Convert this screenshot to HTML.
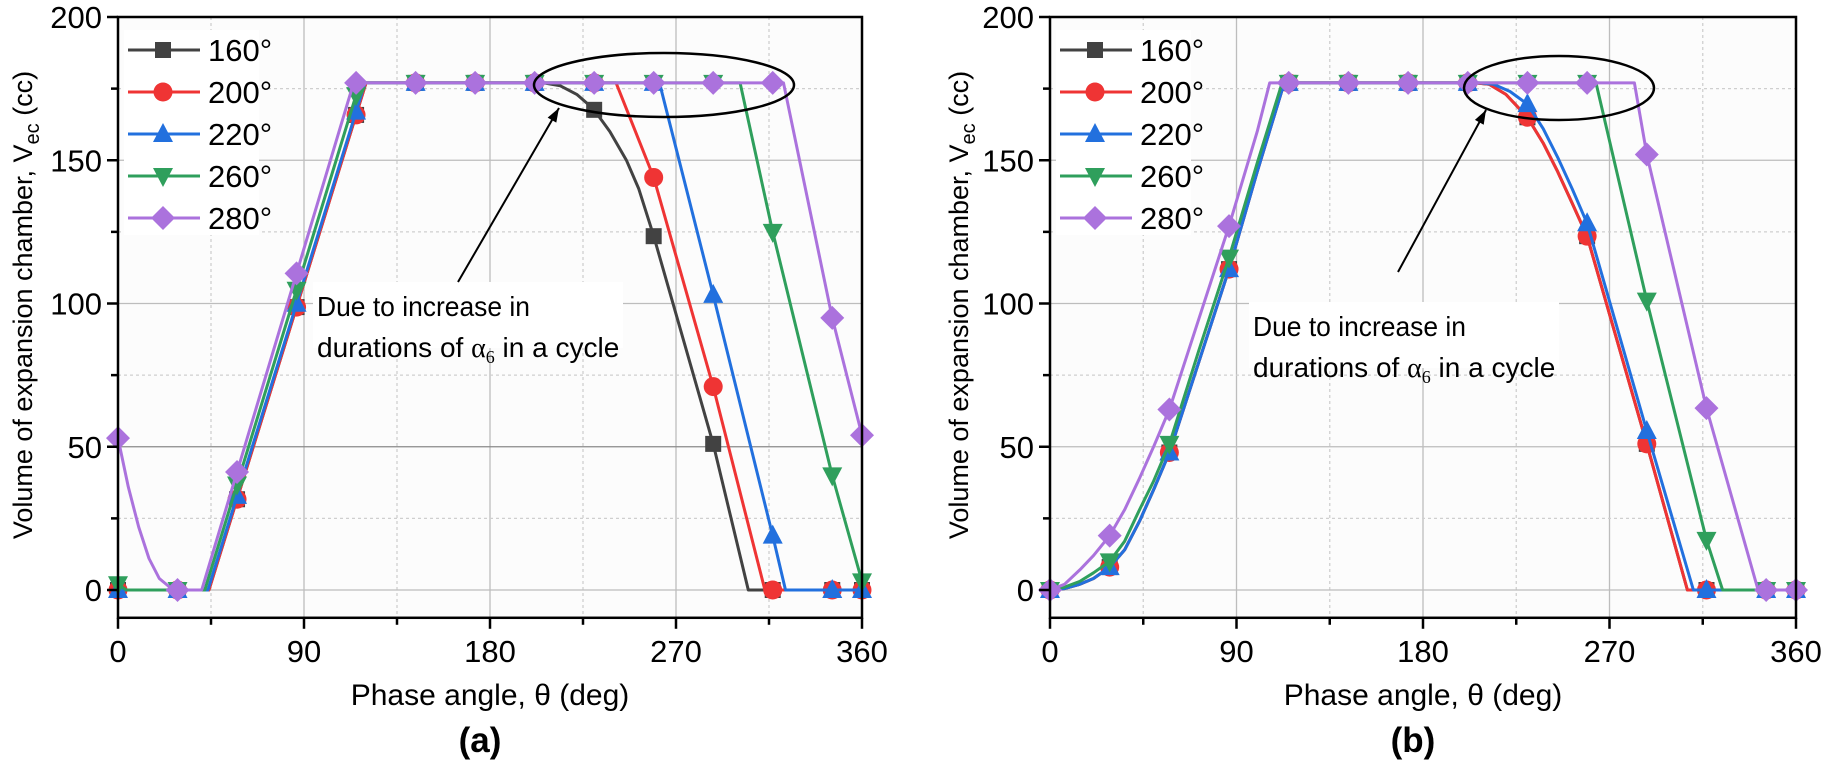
<!DOCTYPE html>
<html><head><meta charset="utf-8">
<style>
html,body{margin:0;padding:0;background:#fff;}
svg{display:block;}
text{font-family:"Liberation Sans",Arial,sans-serif;fill:#000;}
</style></head>
<body>
<svg id="s" width="1823" height="762" xmlns="http://www.w3.org/2000/svg"></svg>
<script>
const S=document.getElementById('s');
let h='';
const C={k:'#424242',r:'#ef3434',b:'#2270de',g:'#2f9f5c',p:'#ab72dd'};
function panel(x0,x1,P,label,leg,ann,ytx){
  const X=d=>x0+(x1-x0)*d/360, Y=v=>590-v*2.865;
  const top=Y(200),bot=Y(-9.7);
  h+=`<rect x="${x0}" y="${top}" width="${x1-x0}" height="${bot-top}" fill="#fcfcfc"/>`;
  for(let d=45;d<360;d+=45){const maj=d%90==0;h+=`<line x1="${X(d)}" y1="${top}" x2="${X(d)}" y2="${bot}" stroke="${maj?'#bdbdbd':'#cfcfcf'}" stroke-width="1.3" ${maj?'':'stroke-dasharray="3,3"'}/>`;}
  for(let v=0;v<200;v+=25){const maj=v%50==0;h+=`<line x1="${x0}" y1="${Y(v)}" x2="${x1}" y2="${Y(v)}" stroke="${maj?(v==50&&label=='(a)'?'#8a8a8a':'#bdbdbd'):'#cfcfcf'}" stroke-width="1.3" ${maj?'':'stroke-dasharray="3,3"'}/>`;}
  h+=`<rect x="${x0+6}" y="30" width="${leg}" height="205" fill="#fff"/>`;
  h+=`<rect x="${ann.tx-4}" y="${ann.ty-24}" width="310" height="66" fill="#fff"/>`;
  const mk=(t,c,x,y)=>{
    if(t=='k')return `<rect x="${x-8}" y="${y-8}" width="16" height="16" fill="${c}"/>`;
    if(t=='r')return `<circle cx="${x}" cy="${y}" r="9.5" fill="${c}"/>`;
    if(t=='b')return `<polygon points="${x},${y-11} ${x-10},${y+8} ${x+10},${y+8}" fill="${c}"/>`;
    if(t=='g')return `<polygon points="${x},${y+11} ${x-10},${y-8} ${x+10},${y-8}" fill="${c}"/>`;
    return `<polygon points="${x},${y-12} ${x+12},${y} ${x},${y+12} ${x-12},${y}" fill="${c}"/>`;
  };
  const interp=(pts,d)=>{for(let i=0;i<pts.length-1;i++){const a=pts[i],b=pts[i+1];if(d>=a[0]&&d<=b[0])return a[1]+(b[1]-a[1])*(d-a[0])/(b[0]-a[0]);}return pts[pts.length-1][1];};
  for(const k of ['k','r','b','g','p']){
    const pts=P[k];
    h+=`<polyline fill="none" stroke="${C[k]}" stroke-width="3" stroke-linejoin="round" points="${pts.map(p=>X(p[0]).toFixed(1)+','+Y(p[1]).toFixed(1)).join(' ')}"/>`;
    const ds=[];for(let i=0;i<=12;i++)ds.push(i*28.8);ds.push(360);
    for(const d of ds)h+=mk(k,C[k],X(d),Y(interp(pts,d)));
  }
  h+=`<rect x="${x0}" y="${top}" width="${x1-x0}" height="${bot-top}" fill="none" stroke="#000" stroke-width="2.5"/>`;
  for(let v=0;v<=200;v+=25)h+=`<line x1="${x0-(v%50==0?11:7)}" y1="${Y(v)}" x2="${x0}" y2="${Y(v)}" stroke="#000" stroke-width="2.5"/>`;
  for(let d=0;d<=360;d+=45)h+=`<line x1="${X(d)}" y1="${bot}" x2="${X(d)}" y2="${bot+(d%90==0?11:7)}" stroke="#000" stroke-width="2.5"/>`;
  for(let v=0;v<=200;v+=50)h+=`<text x="${x0-16}" y="${Y(v)+11}" font-size="31" text-anchor="end">${v}</text>`;
  for(let d=0;d<=360;d+=90)h+=`<text x="${X(d)}" y="${662}" font-size="31" text-anchor="middle">${d}</text>`;
  const xm=(x0+x1)/2;
  h+=`<text x="${xm}" y="705" font-size="30" text-anchor="middle">Phase angle, θ (deg)</text>`;
  h+=`<text x="${xm-10}" y="752" font-size="35" font-weight="bold" text-anchor="middle">${label}</text>`;
  h+=`<text transform="translate(${ytx},305) rotate(-90)" font-size="27" text-anchor="middle">Volume of expansion chamber, V<tspan font-size="20" dy="7">ec</tspan><tspan dy="-7"> (cc)</tspan></text>`;
  const names=['160°','200°','220°','260°','280°'],ks=['k','r','b','g','p'],ly=[50,92,134,176,218];
  ks.forEach((k,i)=>{h+=`<line x1="${x0+10}" y1="${ly[i]}" x2="${x0+82}" y2="${ly[i]}" stroke="${C[k]}" stroke-width="3"/>`+mk(k,C[k],x0+45,ly[i])+`<text x="${x0+90}" y="${ly[i]+11}" font-size="31">${names[i]}</text>`;});
  h+=`<ellipse cx="${ann.ex}" cy="${ann.ey}" rx="${ann.rx}" ry="32" fill="none" stroke="#000" stroke-width="2.5"/>`;
  h+=`<line x1="${ann.ax1}" y1="${ann.ay1}" x2="${ann.ax2}" y2="${ann.ay2}" stroke="#000" stroke-width="2"/>`;
  const ang=Math.atan2(ann.ay2-ann.ay1,ann.ax2-ann.ax1);
  const hx=ann.ax2,hy=ann.ay2,L=14,W=5;
  const bx=hx-L*Math.cos(ang),by=hy-L*Math.sin(ang);
  h+=`<polygon points="${hx},${hy} ${bx+W*Math.sin(ang)},${by-W*Math.cos(ang)} ${bx-W*Math.sin(ang)},${by+W*Math.cos(ang)}" fill="#000"/>`;
  h+=`<text x="${ann.tx}" y="${ann.ty+10}" font-size="28" textLength="213" lengthAdjust="spacingAndGlyphs">Due to increase in</text>`;
  h+=`<text x="${ann.tx}" y="${ann.ty+51}" font-size="28">durations of <tspan font-family="Liberation Serif,serif">α</tspan><tspan font-family="Liberation Serif,serif" font-size="18" dy="6">6</tspan><tspan dy="-6"> in a cycle</tspan></text>`;
}
const A={
 k:[[0,0],[44,0],[120,177],[206,177],[214,176],[222,173],[230,168],[238,160],[246,150],[252,140],[259,124],[288,51],[305,0],[360,0]],
 r:[[0,0],[44,0],[120,177],[241,177],[259.2,144],[288,71],[313,0],[360,0]],
 b:[[0,0],[43.5,0],[119.5,177],[262,177],[288,103],[316.8,19],[323,0],[360,0]],
 g:[[0,2],[4,0],[42,0],[117,177],[301,177],[316.8,125],[345.6,40],[360,3]],
 p:[[0,53],[5,36],[10,22],[15,11],[20,4],[25,1],[28,0],[40.5,0],[114,177],[322,177],[345.6,95],[360,54]]
};
const rise=[[0,0],[7,0.5],[14.4,2],[21,4],[28.8,8],[36,14],[43.2,24],[50,35],[57.6,48],[72,80],[86.4,112],[100,146],[113,177]];
const dec1=[[205,177],[212,176.5],[220,173],[230.4,165],[238,156],[245,146],[252,135],[259.2,123.5],[288,51],[307.6,0],[360,0]];
const B={
 k:rise.concat(dec1), r:rise.concat(dec1),
 b:rise.concat([[207,177],[214,176.5],[222,174],[230.4,169.6],[238,161],[245,151],[252,140],[259.2,128],[288,55.5],[310.5,0],[360,0]]),
 g:[[0,0],[7,1],[14.4,3],[21,6],[28.8,10],[36,17],[43.2,28],[50,38],[57.6,51],[72,84],[86.4,116],[100,149],[112,177],[263.5,177],[288,101],[316.8,17.5],[324.6,0],[360,0]],
 p:[[0,0],[7,2],[14.4,7],[21,12],[28.8,19],[36,28],[43.2,39],[50,50],[57.6,63],[72,95],[86.4,127],[100,160],[106,177],[282,177],[288,152],[316.8,63.5],[341.7,0],[360,0]]
};
panel(118,862,A,'(a)',135,{ex:664,ey:85,rx:130,ax1:458,ay1:282,ax2:559,ay2:108,tx:317,ty:306},32);
panel(1050,1796,B,'(b)',135,{ex:1559,ey:88,rx:95,ax1:1398,ay1:272,ax2:1486,ay2:110,tx:1253,ty:326},968);
S.innerHTML=h;
</script>
</body></html>
